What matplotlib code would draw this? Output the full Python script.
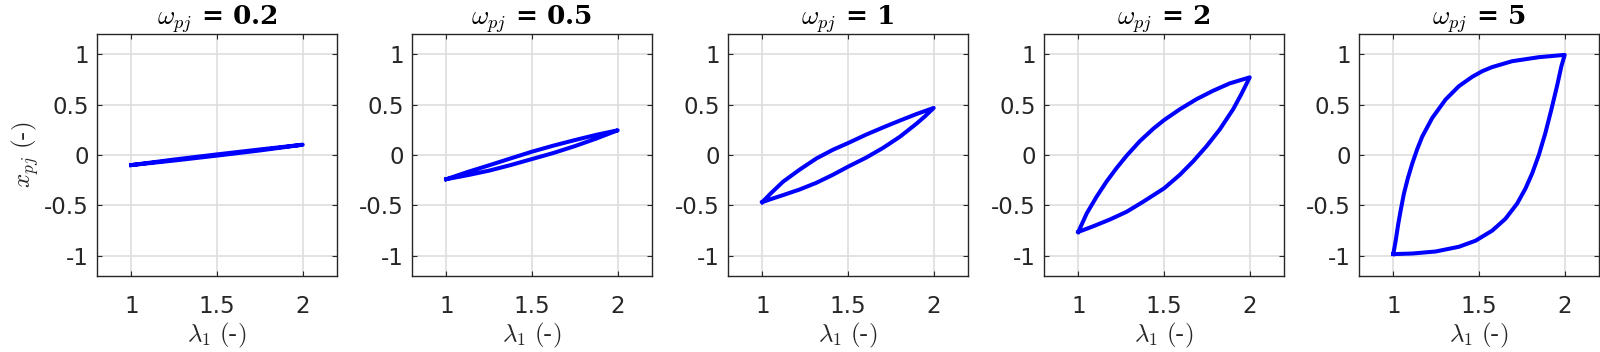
import matplotlib
matplotlib.use("Agg")
import matplotlib.pyplot as plt

plt.rcParams['mathtext.fontset'] = 'cm'
plt.rcParams['font.family'] = 'DejaVu Sans'

# values
omegas = ['0.2', '0.5', '1', '2', '5']

# upper branch (rising first) and lower branch of each loop
lam_up_02 = [1.0, 1.25, 1.5, 1.75, 2.0]
x_up_02 = [-0.100, -0.045, 0.006, 0.055, 0.102]
lam_dn_02 = [1.0, 1.25, 1.5, 1.75, 2.0]
x_dn_02 = [-0.100, -0.055, -0.006, 0.045, 0.102]

lam_up_05 = [1.0, 1.125, 1.25, 1.375, 1.5, 1.625, 1.75, 1.875, 2.0]
x_up_05 = [-0.240, -0.168, -0.102, -0.034, 0.033, 0.093, 0.148, 0.200, 0.245]
lam_dn_05 = [1.0, 1.125, 1.25, 1.375, 1.5, 1.625, 1.75, 1.875, 2.0]
x_dn_05 = [-0.240, -0.200, -0.155, -0.100, -0.040, 0.020, 0.088, 0.163, 0.245]

lam_up_1 = [1.0, 1.05, 1.121, 1.218, 1.315, 1.412, 1.5, 1.607, 1.704, 1.802, 1.899, 2.0]
x_up_1 = [-0.467, -0.380, -0.265, -0.145, -0.035, 0.052, 0.118, 0.203, 0.273, 0.341, 0.406, 0.467]
lam_dn_1 = [1.0, 1.06, 1.121, 1.218, 1.315, 1.412, 1.5, 1.607, 1.704, 1.802, 1.899, 1.95, 2.0]
x_dn_1 = [-0.467, -0.432, -0.398, -0.342, -0.276, -0.196, -0.116, -0.025, 0.070, 0.180, 0.310, 0.385, 0.467]

lam_up_2 = [1.0, 1.049, 1.107, 1.165, 1.223, 1.282, 1.359, 1.437, 1.501, 1.592, 1.689, 1.786, 1.883, 2.0]
x_up_2 = [-0.763, -0.580, -0.413, -0.263, -0.130, -0.007, 0.137, 0.260, 0.347, 0.453, 0.553, 0.637, 0.710, 0.770]
lam_dn_2 = [1.0, 1.087, 1.184, 1.282, 1.379, 1.501, 1.592, 1.670, 1.748, 1.825, 1.903, 1.951, 2.0]
x_dn_2 = [-0.763, -0.707, -0.640, -0.563, -0.463, -0.330, -0.197, -0.063, 0.087, 0.253, 0.453, 0.603, 0.770]

lam_up_5 = [1.0, 1.014, 1.029, 1.043, 1.062, 1.085, 1.111, 1.140, 1.169, 1.227, 1.305, 1.383,
            1.460, 1.520, 1.577, 1.693, 1.849, 2.0]
x_up_5 = [-0.983, -0.850, -0.683, -0.550, -0.383, -0.230, -0.083, 0.060, 0.183, 0.367, 0.550, 0.683,
          0.775, 0.832, 0.872, 0.930, 0.970, 0.993]
lam_dn_5 = [1.0, 1.111, 1.247, 1.383, 1.480, 1.577, 1.654, 1.722, 1.771, 1.810, 1.849, 1.887,
            1.922, 1.955, 1.981, 2.0]
x_dn_5 = [-0.983, -0.977, -0.957, -0.910, -0.850, -0.750, -0.633, -0.483, -0.333, -0.183, 0.000, 0.217,
          0.450, 0.683, 0.883, 0.993]

loops = [
    (lam_up_02, x_up_02, lam_dn_02, x_dn_02),
    (lam_up_05, x_up_05, lam_dn_05, x_dn_05),
    (lam_up_1, x_up_1, lam_dn_1, x_dn_1),
    (lam_up_2, x_up_2, lam_dn_2, x_dn_2),
    (lam_up_5, x_up_5, lam_dn_5, x_dn_5),
]

W, H = 1600, 352
fig = plt.figure(figsize=(W / 100, H / 100), dpi=100)
lefts = [97, 412, 728, 1044, 1359]
dark = '#262626'

for i, (lu, xu, ld, xd) in enumerate(loops):
    ax = fig.add_axes([lefts[i] / W, 76 / H, 240 / W, 242 / H])
    lam = ld + lu[::-1]
    xx = xd + xu[::-1]
    ax.plot(lam, xx, color='#0000ff', lw=2.9, solid_joinstyle='round')
    ax.set_xlim(0.8, 2.2)
    ax.set_ylim(-1.2, 1.2)
    ax.set_xticks([1, 1.5, 2])
    ax.set_xticklabels(['1', '1.5', '2'])
    ax.set_yticks([-1, -0.5, 0, 0.5, 1])
    ax.set_yticklabels(['-1', '-0.5', '0', '0.5', '1'])
    ax.grid(True, color='#dedede', lw=1.2)
    ax.set_axisbelow(True)
    ax.tick_params(direction='in', top=True, right=True, length=3.5, width=0.8,
                   colors=dark, labelsize=16.5)
    ax.tick_params(axis='x', pad=14)
    ax.tick_params(axis='y', pad=6)
    for s in ax.spines.values():
        s.set_color(dark)
        s.set_linewidth(1.0)
    ax.set_title(r'$\omega_{pj}$ = ' + omegas[i], fontsize=19, pad=7,
                 fontfamily='DejaVu Serif', fontweight='bold')
    ax.set_xlabel(r'$\lambda_1\ (\mathrm{\text{-}})$', fontsize=18, color=dark, labelpad=2)
    if i == 0:
        ax.set_ylabel(r'$x_{pj}\ (\mathrm{\text{-}})$', fontsize=18, color=dark, labelpad=2)

fig.savefig('out.png', dpi=100)
